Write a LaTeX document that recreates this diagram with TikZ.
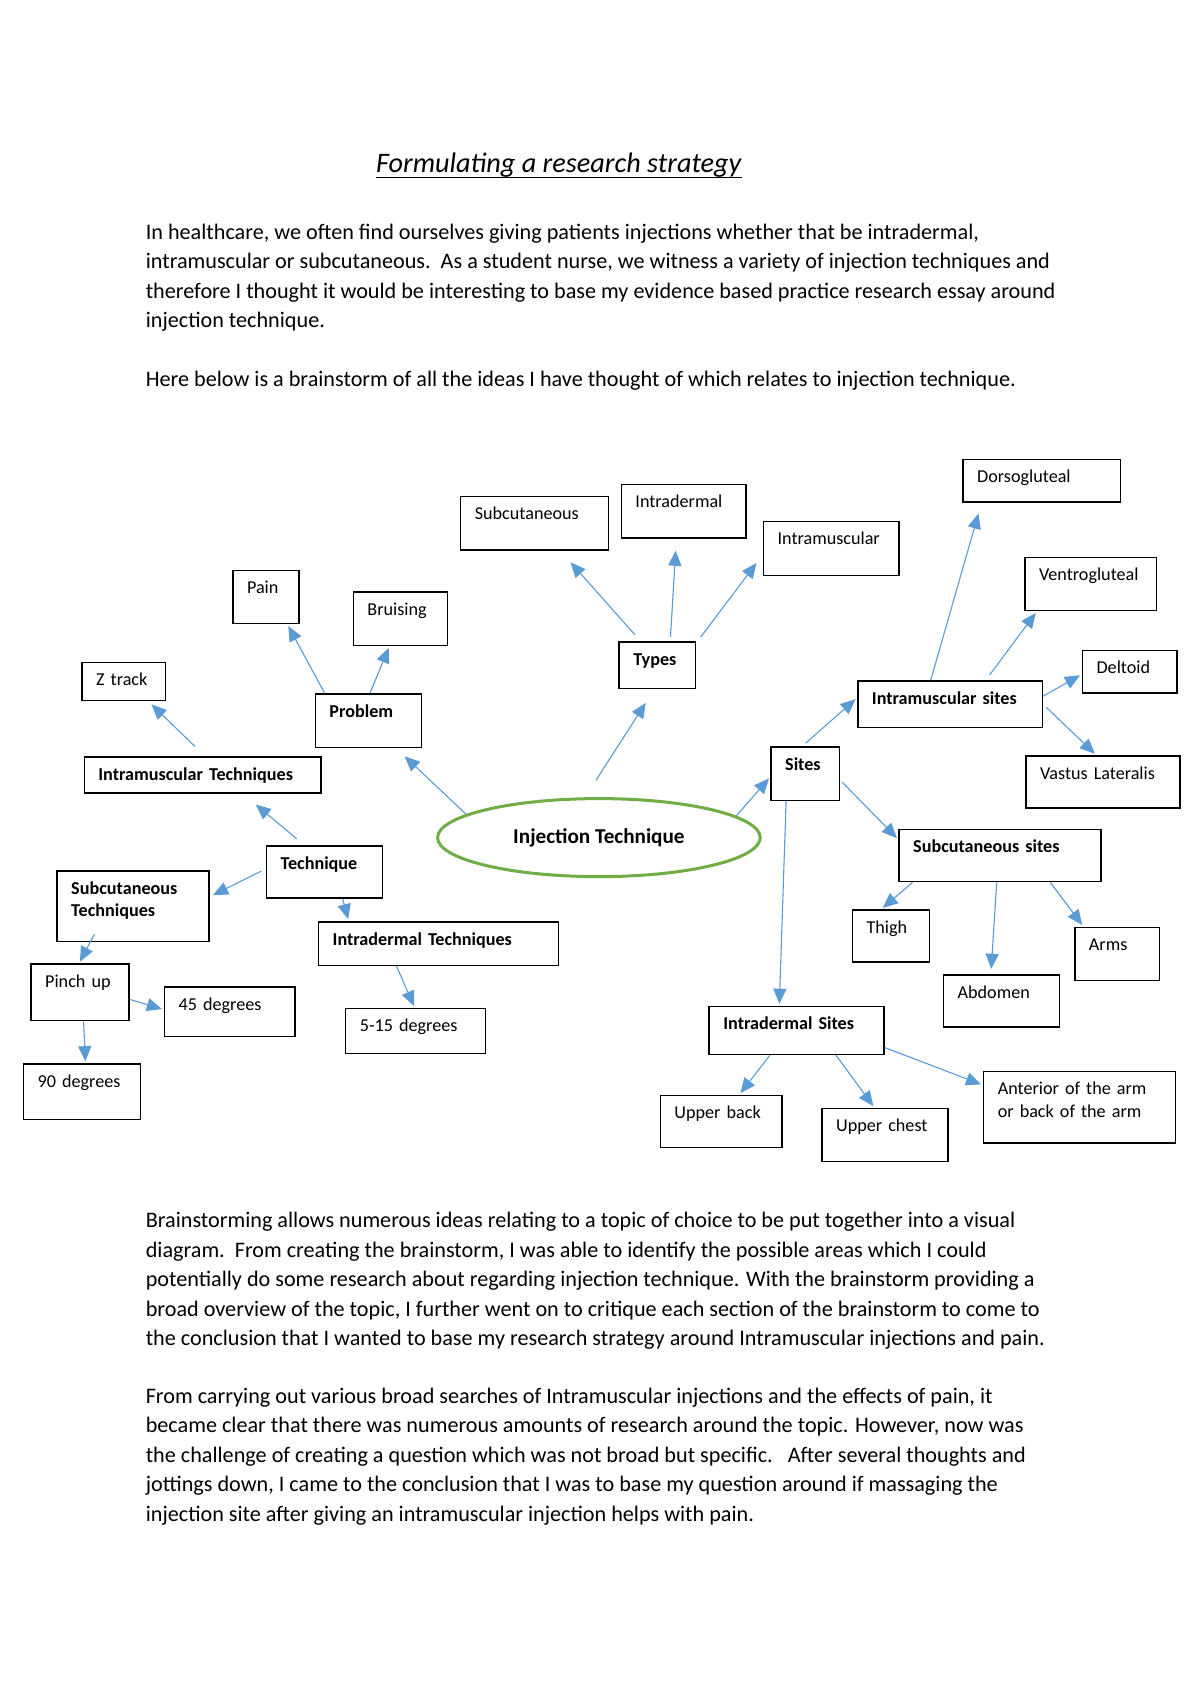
\documentclass[tikz,border=0pt]{standalone}
\usepackage{fontspec}
\setmainfont{Carlito}
\usetikzlibrary{arrows.meta,shapes.geometric}
\definecolor{arrowblue}{RGB}{91,155,213}
\definecolor{ringgreen}{RGB}{112,173,71}
\newcommand{\boxfont}{\fontsize{9}{11.3}\selectfont\hyphenpenalty=10000 }
\tikzset{
  cell/.style={draw, line width=0.7pt, anchor=north west, align=left, font=\boxfont,
    inner xsep=7pt, inner ysep=0pt, text height=11.5pt},
  head/.style={cell, font=\boxfont\bfseries},
  link/.style={draw=arrowblue, line width=0.55pt, -{Triangle[length=7.5pt,width=6.5pt]}, shorten >=1pt},
  para/.style={anchor=north west, align=left, inner sep=0pt, font=\fontsize{11}{14.6}\selectfont}
}
\begin{document}
\begin{tikzpicture}[x=0.538pt, y=-0.538pt]
  \useasboundingbox (0,0) rectangle (1106,1565);

  \node[anchor=base, inner sep=0pt, font=\fontsize{14}{17}\selectfont\itshape] (title) at (515,159) {Formulating a research strategy};
  \draw[line width=0.6pt] ([yshift=-2.5pt]title.base west) -- ([yshift=-2.5pt]title.base east);

  \node[para] (intro) at (134,206) {In healthcare, we often find ourselves giving patients injections whether that be intradermal,\\
    intramuscular or subcutaneous.\ \ As a student nurse, we witness a variety of injection techniques and\\
    therefore I thought it would be interesting to base my evidence based practice research essay around\\
    injection technique.};
  \node[para] (below) at (134,342) {Here below is a brainstorm of all the ideas I have thought of which relates to injection technique.};

  \node[draw=ringgreen, line width=1.5pt, ellipse, minimum width=160pt, minimum height=38.7pt, inner sep=0pt,
    font=\fontsize{10.5}{12}\selectfont\bfseries] (inj) at (552,772) {\raisebox{-1.5pt}{Injection Technique}};

  \node[cell, text width=59.2pt, text depth=14.9pt] (subcut) at (424,457) {Subcutaneous};
  \node[cell, text width=47.9pt, text depth=14.9pt] (intrad) at (572,446) {Intradermal};
  \node[cell, text width=53.3pt, text depth=15.4pt] (intram) at (703,480) {Intramuscular};
  \node[head, text width=24pt, text depth=11.6pt] (types) at (570,591) {Types};

  \node[cell, text width=18.8pt, text depth=14.9pt] (pain) at (214,525) {Pain};
  \node[cell, text width=32.8pt, text depth=14.9pt] (bruise) at (325,545) {Bruising};
  \node[head, text width=38.7pt, text depth=14.9pt] (prob) at (290,639) {Problem};

  \node[cell, text width=27.4pt, text depth=7.3pt] (ztrack) at (75,610) {Z track};
  \node[head, text width=103.3pt, text depth=6.3pt] (imtech) at (77,697) {Intramuscular Techniques};
  \node[head, text width=43.6pt, text depth=14.3pt] (tech) at (245,779) {Technique};
  \node[head, text width=61.3pt, text depth=23.5pt] (sctech) at (52,802) {Subcutaneous\\Techniques};
  \node[head, text width=104.9pt, text depth=10pt] (idtech) at (293,849) {Intradermal Techniques};
  \node[cell, text width=34.5pt, text depth=16.5pt] (pinch) at (28,888) {Pinch up};
  \node[cell, text width=50.6pt, text depth=13.2pt] (deg45) at (151,909) {45 degrees};
  \node[cell, text width=55.4pt, text depth=10.6pt] (deg515) at (318,929) {5-15 degrees};
  \node[cell, text width=44.1pt, text depth=15.9pt] (deg90) at (21,980) {90 degrees};

  \node[cell, text width=64pt, text depth=9.5pt] (dorso) at (887,423) {Dorsogluteal};
  \node[cell, text width=51.1pt, text depth=14.9pt] (ventro) at (944,513) {Ventrogluteal};
  \node[cell, text width=32.8pt, text depth=9.5pt] (deltoid) at (997,599) {Deltoid};
  \node[head, text width=77.5pt, text depth=11.6pt] (imsites) at (790,627) {Intramuscular sites};
  \node[cell, text width=62.4pt, text depth=14.3pt] (vastus) at (945,696) {Vastus Lateralis};
  \node[head, text width=19.9pt, text depth=14.9pt] (sites) at (710,688) {Sites};

  \node[head, text width=86.1pt, text depth=14.3pt] (scsites) at (828,764) {Subcutaneous sites};
  \node[cell, text width=24.2pt, text depth=14.3pt] (thigh) at (785,838) {Thigh};
  \node[cell, text width=28pt, text depth=14.9pt] (arms) at (990,854) {Arms};
  \node[cell, text width=43.6pt, text depth=14.3pt] (abdomen) at (869,898) {Abdomen};

  \node[head, text width=72.6pt, text depth=12.2pt] (idsites) at (653,927) {Intradermal Sites};
  \node[cell, text width=46.3pt, text depth=14.3pt] (upback) at (608,1009) {Upper back};
  \node[cell, text width=48.4pt, text depth=14.9pt] (upchest) at (757,1021) {Upper chest};
  \node[cell, text width=81.2pt, text depth=24pt] (anterior) at (906,987) {Anterior of the arm\\or back of the arm};

  \draw[link, shorten >=6pt] (inj.170) -- (prob.-45);
  \draw[link, shorten <=10pt, shorten >=8pt] (inj.109) -- (types.-97);
  \draw[link] (inj.9) -- (sites.185);
  \draw[link] (prob.148) -- (pain.-52);
  \draw[link] (prob.87) -- (bruise.-112);
  \draw[link, shorten <=7pt, shorten >=2.3pt] (imtech.82) -- (ztrack.-39);
  \draw[link, shorten <=5pt, shorten >=8.5pt] (tech.127) -- (imtech.-25);
  \draw[link, shorten <=2.4pt, shorten >=1.8pt] (tech.177) -- (sctech.7);
  \draw[link] (tech.-56) -- (idtech.166);
  \draw[link, shorten <=-4.5pt] (sctech.-140) -- (pinch.92);
  \draw[link] (pinch.-8) -- (deg45.178);
  \draw[link] (pinch.-83) -- (deg90.83);
  \draw[link] (idtech.-152) -- (deg515.92);

  \draw[link, shorten <=4.3pt, shorten >=7.8pt] (types.125) -- (subcut.-47);
  \draw[link, shorten <=2.2pt, shorten >=6pt] (types.62) -- (intrad.-105);
  \draw[link, shorten <=3.4pt, shorten >=5.2pt] (types.30) -- (intram.185);

  \draw[link, shorten <=2.5pt] (sites.97) -- (imsites.176);
  \draw[link, shorten <=1.5pt] (sites.-10) -- (scsites.171);
  \draw[link] (sites.-125) -- (idsites.125);
  \draw[link, shorten >=5.6pt] (imsites.129) -- (dorso.-160);
  \draw[link, shorten <=3.4pt] (imsites.34) -- (ventro.-153);
  \draw[link] (imsites.5) -- (deltoid.183);
  \draw[link, shorten <=2.2pt] (imsites.0) -- (vastus.104);
  \draw[link] (scsites.-163) -- (thigh.110);
  \draw[link, shorten >=2.7pt] (scsites.-97) -- (abdomen.112);
  \draw[link] (scsites.-28) -- (arms.141);
  \draw[link] (idsites.-137) -- (upback.56);
  \draw[link] (idsites.-32) -- (upchest.111);
  \draw[link] (idsites.-11) -- (anterior.167);

  \node[para] (brainpara) at (134,1117) {Brainstorming allows numerous ideas relating to a topic of choice to be put together into a visual\\
    diagram.\ \ From creating the brainstorm, I was able to identify the possible areas which I could\\
    potentially do some research about regarding injection technique. With the brainstorm providing a\\
    broad overview of the topic, I further went on to critique each section of the brainstorm to come to\\
    the conclusion that I wanted to base my research strategy around Intramuscular injections and pain.};
  \node[para] (searchpara) at (134,1279) {From carrying out various broad searches of Intramuscular injections and the effects of pain, it\\
    became clear that there was numerous amounts of research around the topic. However, now was\\
    the challenge of creating a question which was not broad but specific.\ \ \ After several thoughts and\\
    jottings down, I came to the conclusion that I was to base my question around if massaging the\\
    injection site after giving an intramuscular injection helps with pain.};
\end{tikzpicture}
\end{document}
